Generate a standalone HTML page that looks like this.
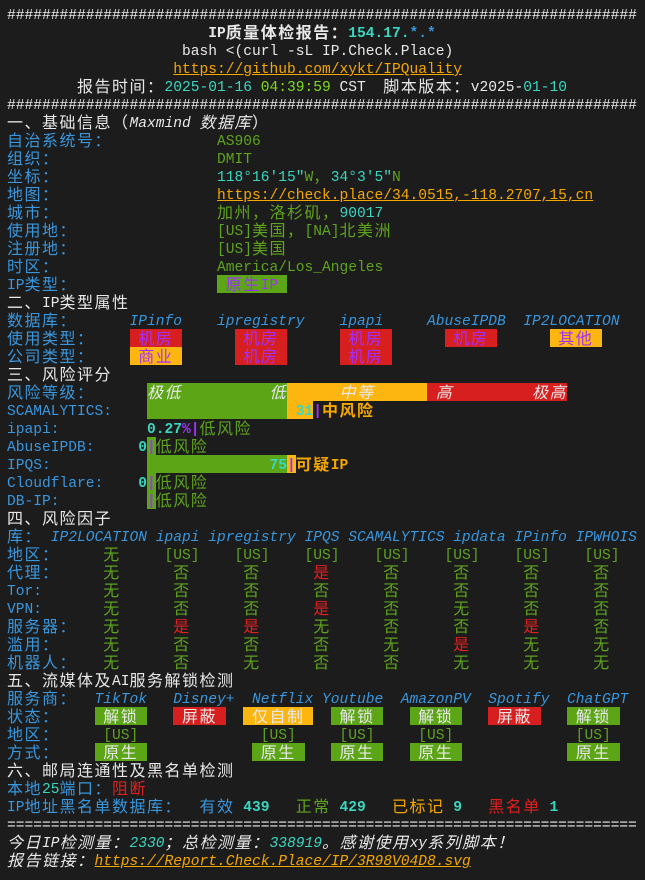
<!DOCTYPE html>
<html><head><meta charset="utf-8"><style>
html,body{margin:0;padding:0;background:#1c1c1c;}
body{width:645px;height:880px;overflow:hidden;position:relative;font-family:"Liberation Mono",monospace;font-size:14.58px;line-height:18px;color:#e8e8e8;}
.t{position:absolute;white-space:pre;left:calc(7px + var(--c)*8.75px);top:calc(5px + var(--r)*18px);height:18px;line-height:18px;box-sizing:border-box;padding-top:2px;}
.k{font-family:"Noto Sans CJK SC","WenQuanYi Zen Hei",sans-serif;font-size:16px;letter-spacing:1.5px;line-height:0;position:relative;top:1px;}
.bg{width:calc(var(--w)*8.75px);text-align:center;}
.b{color:#3a96dd}.g{color:#5fa31f}.c{color:#3ad7c0}.o{color:#f5a700}.r{color:#e02020}.p{color:#a030ff}.w{color:#e8e8e8}.lg{color:#7fdc1b}
.u{text-decoration:underline}.i{font-style:italic}.bd{font-weight:bold}
.G{background:#5ba517}.R{background:#d81f1f}.O{background:#fdb60f}
</style></head><body>
<div class="t" style="--c:0;--r:0">########################################################################</div>
<div class="t bd" style="--c:23;--r:1">IP<span class="k">质量体检报告：</span><span class="c">154.17.</span><span class="b">*.*</span></div>
<div class="t" style="--c:20;--r:2">bash &lt;(curl -sL IP.Check.Place)</div>
<div class="t o u" style="--c:19;--r:3">https://github.com/xykt/IPQuality</div>
<div class="t" style="--c:8;--r:4"><span class="k">报告时间：</span><span class="c">2025-01-16</span> <span class="lg">04:39:59</span> CST  <span class="k">脚本版本：</span>v2025-<span class="c">01-10</span></div>
<div class="t" style="--c:0;--r:5">########################################################################</div>
<div class="t" style="--c:0;--r:6"><span class="k">一、基础信息（</span><span class="i">Maxmind <span class="k">数据库</span></span><span class="k">）</span></div>
<div class="t b" style="--c:0;--r:7"><span class="k">自治系统号：</span></div>
<div class="t b" style="--c:0;--r:8"><span class="k">组织：</span></div>
<div class="t b" style="--c:0;--r:9"><span class="k">坐标：</span></div>
<div class="t b" style="--c:0;--r:10"><span class="k">地图：</span></div>
<div class="t b" style="--c:0;--r:11"><span class="k">城市：</span></div>
<div class="t b" style="--c:0;--r:12"><span class="k">使用地：</span></div>
<div class="t b" style="--c:0;--r:13"><span class="k">注册地：</span></div>
<div class="t b" style="--c:0;--r:14"><span class="k">时区：</span></div>
<div class="t b" style="--c:0;--r:15">IP<span class="k">类型：</span></div>
<div class="t g" style="--c:24;--r:7">AS906</div>
<div class="t g" style="--c:24;--r:8">DMIT</div>
<div class="t c" style="--c:24;--r:9">118°16′15″<span class="g">W</span><span class="k g">，</span>34°3′5″<span class="g">N</span></div>
<div class="t o u" style="--c:24;--r:10">https://check.place/34.0515,-118.2707,15,cn</div>
<div class="t g" style="--c:24;--r:11"><span class="k">加州，洛杉矶，</span><span class="c">90017</span></div>
<div class="t g" style="--c:24;--r:12">[US]<span class="k">美国，</span>[NA]<span class="k">北美洲</span></div>
<div class="t g" style="--c:24;--r:13">[US]<span class="k">美国</span></div>
<div class="t g" style="--c:24;--r:14">America/Los_Angeles</div>
<div class="t bg G p" style="--c:24;--r:15;--w:8"><span class="k">原生</span>IP</div>

<div class="t" style="--c:0;--r:16"><span class="k">二、</span>IP<span class="k">类型属性</span></div>
<div class="t b" style="--c:0;--r:17"><span class="k">数据库：</span></div>
<div class="t b i" style="--c:14;--r:17">IPinfo</div>
<div class="t b i" style="--c:24;--r:17">ipregistry</div>
<div class="t b i" style="--c:38;--r:17">ipapi</div>
<div class="t b i" style="--c:48;--r:17">AbuseIPDB</div>
<div class="t b i" style="--c:59;--r:17">IP2LOCATION</div>
<div class="t b" style="--c:0;--r:18"><span class="k">使用类型：</span></div>
<div class="t bg R p" style="--c:14;--r:18;--w:6"><span class="k">机房</span></div>
<div class="t bg R p" style="--c:26;--r:18;--w:6"><span class="k">机房</span></div>
<div class="t bg R p" style="--c:38;--r:18;--w:6"><span class="k">机房</span></div>
<div class="t bg R p" style="--c:50;--r:18;--w:6"><span class="k">机房</span></div>
<div class="t bg O p" style="--c:62;--r:18;--w:6"><span class="k">其他</span></div>
<div class="t b" style="--c:0;--r:19"><span class="k">公司类型：</span></div>
<div class="t bg O p" style="--c:14;--r:19;--w:6"><span class="k">商业</span></div>
<div class="t bg R p" style="--c:26;--r:19;--w:6"><span class="k">机房</span></div>
<div class="t bg R p" style="--c:38;--r:19;--w:6"><span class="k">机房</span></div>

<div class="t" style="--c:0;--r:20"><span class="k">三、风险评分</span></div>
<div class="t b" style="--c:0;--r:21"><span class="k">风险等级：</span></div>
<div class="t b" style="--c:0;--r:22">SCAMALYTICS:</div>
<div class="t b" style="--c:0;--r:23">ipapi:</div>
<div class="t b" style="--c:0;--r:24">AbuseIPDB:</div>
<div class="t b" style="--c:0;--r:25">IPQS:</div>
<div class="t b" style="--c:0;--r:26">Cloudflare:</div>
<div class="t b" style="--c:0;--r:27">DB-IP:</div>
<div class="t bg G" style="--c:16;--r:21;--w:16"></div>
<div class="t bg O" style="--c:32;--r:21;--w:16"></div>
<div class="t bg R" style="--c:48;--r:21;--w:16"></div>
<div class="t i w" style="--c:16;--r:21"><span class="k">极低</span></div>
<div class="t i w" style="--c:30;--r:21"><span class="k">低</span></div>
<div class="t i w" style="--c:38;--r:21"><span class="k">中等</span></div>
<div class="t i w" style="--c:49;--r:21"><span class="k">高</span></div>
<div class="t i w" style="--c:60;--r:21"><span class="k">极高</span></div>
<div class="t bg G" style="--c:16;--r:22;--w:16"></div>
<div class="t bg O" style="--c:32;--r:22;--w:3"></div>
<div class="t c bd" style="--c:33;--r:22">31<span class="p">|</span><span class="k o">中风险</span></div>
<div class="t c bd" style="--c:16;--r:23">0.27<span class="p">%|</span><span class="k g" style="font-weight:normal">低风险</span></div>
<div class="t bg G" style="--c:16;--r:24;--w:1"></div>
<div class="t c bd" style="--c:15;--r:24">0<span class="p">|</span><span class="k g" style="font-weight:normal">低风险</span></div>
<div class="t bg G" style="--c:16;--r:25;--w:16"></div>
<div class="t bg O" style="--c:32;--r:25;--w:1"></div>
<div class="t c bd" style="--c:30;--r:25">75<span class="p">|</span><span class="o"><span class="k">可疑</span>IP</span></div>
<div class="t bg G" style="--c:16;--r:26;--w:1"></div>
<div class="t c bd" style="--c:15;--r:26">0<span class="p">|</span><span class="k g" style="font-weight:normal">低风险</span></div>
<div class="t bg G" style="--c:16;--r:27;--w:1"></div>
<div class="t c bd" style="--c:16;--r:27"><span class="p">|</span><span class="k g" style="font-weight:normal">低风险</span></div>

<div class="t" style="--c:0;--r:28"><span class="k">四、风险因子</span></div>
<div class="t b" style="--c:0;--r:29"><span class="k">库：</span> <span class="i">IP2LOCATION ipapi ipregistry IPQS SCAMALYTICS ipdata IPinfo IPWHOIS</span></div>
<div class="t b" style="--c:0;--r:30"><span class="k">地区：</span></div>
<div class="t b" style="--c:0;--r:31"><span class="k">代理：</span></div>
<div class="t b" style="--c:0;--r:32">Tor:</div>
<div class="t b" style="--c:0;--r:33">VPN:</div>
<div class="t b" style="--c:0;--r:34"><span class="k">服务器：</span></div>
<div class="t b" style="--c:0;--r:35"><span class="k">滥用：</span></div>
<div class="t b" style="--c:0;--r:36"><span class="k">机器人：</span></div>
<div class="t g" style="--c:11;--r:30"><span class="k">无</span></div>
<div class="t g" style="--c:18;--r:30">[US]</div><div class="t g" style="--c:26;--r:30">[US]</div><div class="t g" style="--c:34;--r:30">[US]</div><div class="t g" style="--c:42;--r:30">[US]</div><div class="t g" style="--c:50;--r:30">[US]</div><div class="t g" style="--c:58;--r:30">[US]</div><div class="t g" style="--c:66;--r:30">[US]</div>
<div class="t g" style="--c:11;--r:31"><span class="k">无</span></div><div class="t g" style="--c:19;--r:31"><span class="k">否</span></div><div class="t g" style="--c:27;--r:31"><span class="k">否</span></div><div class="t r" style="--c:35;--r:31"><span class="k">是</span></div><div class="t g" style="--c:43;--r:31"><span class="k">否</span></div><div class="t g" style="--c:51;--r:31"><span class="k">否</span></div><div class="t g" style="--c:59;--r:31"><span class="k">否</span></div><div class="t g" style="--c:67;--r:31"><span class="k">否</span></div>
<div class="t g" style="--c:11;--r:32"><span class="k">无</span></div><div class="t g" style="--c:19;--r:32"><span class="k">否</span></div><div class="t g" style="--c:27;--r:32"><span class="k">否</span></div><div class="t g" style="--c:35;--r:32"><span class="k">否</span></div><div class="t g" style="--c:43;--r:32"><span class="k">否</span></div><div class="t g" style="--c:51;--r:32"><span class="k">否</span></div><div class="t g" style="--c:59;--r:32"><span class="k">否</span></div><div class="t g" style="--c:67;--r:32"><span class="k">否</span></div>
<div class="t g" style="--c:11;--r:33"><span class="k">无</span></div><div class="t g" style="--c:19;--r:33"><span class="k">否</span></div><div class="t g" style="--c:27;--r:33"><span class="k">否</span></div><div class="t r" style="--c:35;--r:33"><span class="k">是</span></div><div class="t g" style="--c:43;--r:33"><span class="k">否</span></div><div class="t g" style="--c:51;--r:33"><span class="k">无</span></div><div class="t g" style="--c:59;--r:33"><span class="k">否</span></div><div class="t g" style="--c:67;--r:33"><span class="k">否</span></div>
<div class="t g" style="--c:11;--r:34"><span class="k">无</span></div><div class="t r" style="--c:19;--r:34"><span class="k">是</span></div><div class="t r" style="--c:27;--r:34"><span class="k">是</span></div><div class="t g" style="--c:35;--r:34"><span class="k">无</span></div><div class="t g" style="--c:43;--r:34"><span class="k">否</span></div><div class="t g" style="--c:51;--r:34"><span class="k">否</span></div><div class="t r" style="--c:59;--r:34"><span class="k">是</span></div><div class="t g" style="--c:67;--r:34"><span class="k">否</span></div>
<div class="t g" style="--c:11;--r:35"><span class="k">无</span></div><div class="t g" style="--c:19;--r:35"><span class="k">否</span></div><div class="t g" style="--c:27;--r:35"><span class="k">否</span></div><div class="t g" style="--c:35;--r:35"><span class="k">否</span></div><div class="t g" style="--c:43;--r:35"><span class="k">无</span></div><div class="t r" style="--c:51;--r:35"><span class="k">是</span></div><div class="t g" style="--c:59;--r:35"><span class="k">无</span></div><div class="t g" style="--c:67;--r:35"><span class="k">无</span></div>
<div class="t g" style="--c:11;--r:36"><span class="k">无</span></div><div class="t g" style="--c:19;--r:36"><span class="k">否</span></div><div class="t g" style="--c:27;--r:36"><span class="k">无</span></div><div class="t g" style="--c:35;--r:36"><span class="k">否</span></div><div class="t g" style="--c:43;--r:36"><span class="k">否</span></div><div class="t g" style="--c:51;--r:36"><span class="k">无</span></div><div class="t g" style="--c:59;--r:36"><span class="k">无</span></div><div class="t g" style="--c:67;--r:36"><span class="k">无</span></div>

<div class="t" style="--c:0;--r:37"><span class="k">五、流媒体及</span>AI<span class="k">服务解锁检测</span></div>
<div class="t b" style="--c:0;--r:38"><span class="k">服务商：</span></div>
<div class="t b i" style="--c:10;--r:38">TikTok</div>
<div class="t b i" style="--c:19;--r:38">Disney+</div>
<div class="t b i" style="--c:28;--r:38">Netflix</div>
<div class="t b i" style="--c:36;--r:38">Youtube</div>
<div class="t b i" style="--c:45;--r:38">AmazonPV</div>
<div class="t b i" style="--c:55;--r:38">Spotify</div>
<div class="t b i" style="--c:64;--r:38">ChatGPT</div>
<div class="t b" style="--c:0;--r:39"><span class="k">状态：</span></div>
<div class="t bg G w" style="--c:10;--r:39;--w:6"><span class="k">解锁</span></div>
<div class="t bg R w" style="--c:19;--r:39;--w:6"><span class="k">屏蔽</span></div>
<div class="t bg O w" style="--c:27;--r:39;--w:8"><span class="k">仅自制</span></div>
<div class="t bg G w" style="--c:37;--r:39;--w:6"><span class="k">解锁</span></div>
<div class="t bg G w" style="--c:46;--r:39;--w:6"><span class="k">解锁</span></div>
<div class="t bg R w" style="--c:55;--r:39;--w:6"><span class="k">屏蔽</span></div>
<div class="t bg G w" style="--c:64;--r:39;--w:6"><span class="k">解锁</span></div>
<div class="t b" style="--c:0;--r:40"><span class="k">地区：</span></div>
<div class="t g" style="--c:11;--r:40">[US]</div><div class="t g" style="--c:29;--r:40">[US]</div><div class="t g" style="--c:38;--r:40">[US]</div><div class="t g" style="--c:47;--r:40">[US]</div><div class="t g" style="--c:65;--r:40">[US]</div>
<div class="t b" style="--c:0;--r:41"><span class="k">方式：</span></div>
<div class="t bg G w" style="--c:10;--r:41;--w:6"><span class="k">原生</span></div>
<div class="t bg G w" style="--c:28;--r:41;--w:6"><span class="k">原生</span></div>
<div class="t bg G w" style="--c:37;--r:41;--w:6"><span class="k">原生</span></div>
<div class="t bg G w" style="--c:46;--r:41;--w:6"><span class="k">原生</span></div>
<div class="t bg G w" style="--c:64;--r:41;--w:6"><span class="k">原生</span></div>

<div class="t" style="--c:0;--r:42"><span class="k">六、邮局连通性及黑名单检测</span></div>
<div class="t b" style="--c:0;--r:43"><span class="k">本地</span><span class="c">25</span><span class="k">端口：</span><span class="k r">阻断</span></div>
<div class="t b" style="--c:0;--r:44">IP<span class="k">地址黑名单数据库：</span></div>
<div class="t" style="--c:22;--r:44"><span class="k b">有效</span> <span class="c bd">439</span></div>
<div class="t" style="--c:33;--r:44"><span class="k g">正常</span> <span class="c bd">429</span></div>
<div class="t" style="--c:44;--r:44"><span class="k o">已标记</span> <span class="c bd">9</span></div>
<div class="t" style="--c:55;--r:44"><span class="k r">黑名单</span> <span class="c bd">1</span></div>
<div class="t" style="--c:0;--r:45">========================================================================</div>
<div class="t i" style="--c:0;--r:46"><span class="k">今日</span>IP<span class="k">检测量：</span><span class="c">2330</span><span class="k">；总检测量：</span><span class="c">338919</span><span class="k">。感谢使用</span>xy<span class="k">系列脚本！</span></div>
<div class="t i" style="--c:0;--r:47"><span class="k">报告链接：</span><span class="o u">https://Report.Check.Place/IP/3R98V04D8.svg</span></div>
</body></html>
